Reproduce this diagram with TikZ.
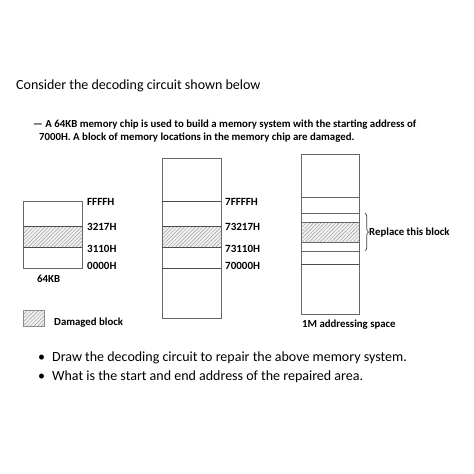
\documentclass[tikz,border=0pt]{standalone}
\usepackage{fontspec}
\setmainfont{Carlito}
\usetikzlibrary{positioning, patterns.meta, decorations.pathreplacing}
\tikzset{
  membox/.style={draw=black!60, line width=0.8pt},
  divider/.style={draw=black!70, line width=1pt},
  damaged/.style={preaction={fill=blue!5!gray!10}, pattern={Lines[angle=45, distance=2.6pt, line width=0.45pt]}, pattern color=black!40},
  addr/.style={anchor=west, inner sep=0pt, font=\bfseries\fontsize{11}{13}\selectfont},
  caption/.style={anchor=base west, inner sep=0pt, font=\bfseries\fontsize{10.8}{13}\selectfont},
  heading/.style={anchor=base west, inner sep=0pt, font=\fontsize{14}{16}\selectfont},
  remark/.style={anchor=base west, inner sep=0pt, font=\bfseries\fontsize{10.8}{13}\selectfont},
}

\begin{document}
\begin{tikzpicture}[x=1pt, y=-1pt]

  \useasboundingbox[fill=white] (0,0) rectangle (474,474);

  % Texts at the top
  \node[heading] (title) at (16,89) {Consider the decoding circuit shown below};
  \node[remark] (line1) at (33,127) {--- A 64KB memory chip is used to build a memory system with the starting address of};
  \node[remark] (line2) at (39,140) {7000H. A block of memory locations in the memory chip are damaged.};

  % 64KB chip
  \fill[damaged] (23,226) rectangle (82,247);
  \draw[membox] (23,201) rectangle (82,268);
  \draw[divider] (23,226) -- (82,226);
  \draw[divider] (23,247) -- (82,247);
  \node[addr] (chiptop) at (87,202) {FFFFH};
  \node[addr] (chipbadtop) at (87,227) {3217H};
  \node[addr] (chipbadbot) at (87,249) {3110H};
  \node[addr] (chipbot) at (87,266) {0000H};
  \node[caption] (chipsize) at (37,282) {64KB};

  % legend
  \fill[damaged] (23,310) rectangle (44,326);
  \draw[membox, draw=black!45] (23,310) rectangle (44,326);
  \node[caption] (legend) at (54,325) {Damaged block};

  % memory system
  \fill[damaged] (162,226) rectangle (221,247);
  \draw[membox] (162,158) rectangle (221,318);
  \draw[divider] (162,201) -- (221,201);
  \draw[divider] (162,226) -- (221,226);
  \draw[divider] (162,247) -- (221,247);
  \draw[divider] (162,268) -- (221,268);
  \node[addr] (systop) at (225,202) {7FFFFH};
  \node[addr] (sysbadtop) at (225,227) {73217H};
  \node[addr] (sysbadbot) at (225,249) {73110H};
  \node[addr] (sysbot) at (225,266) {70000H};

  % 1M addressing space
  \fill[damaged] (301,222) rectangle (359,242);
  \draw[membox] (301,154) rectangle (359,314);
  \draw[membox] (301,197) -- (359,197);
  \draw[membox] (301,213) -- (359,213);
  \draw[membox] (301,222) -- (359,222);
  \draw[membox] (301,242) -- (359,242);
  \draw[membox] (301,251) -- (359,251);
  \draw[divider] (301,264) -- (359,264);
  \coordinate (bracetop) at (365,213);
  \coordinate (bracebot) at (365,251);
  \draw[black!75, line width=0.7pt, decoration={brace, amplitude=3.5pt}, decorate] (bracetop) -- (bracebot);
  \node[caption] (replace) at (369,235) {Replace this block};
  \node[caption] (space) at (302,327) {1M addressing space};

  % questions
  \node[heading] (ask1) at (38,361) {\makebox[14pt][l]{\textbullet}Draw the decoding circuit to repair the above memory system.};
  \node[heading] (ask2) at (38,380) {\makebox[14pt][l]{\textbullet}What is the start and end address of the repaired area.};

\end{tikzpicture}
\end{document}
